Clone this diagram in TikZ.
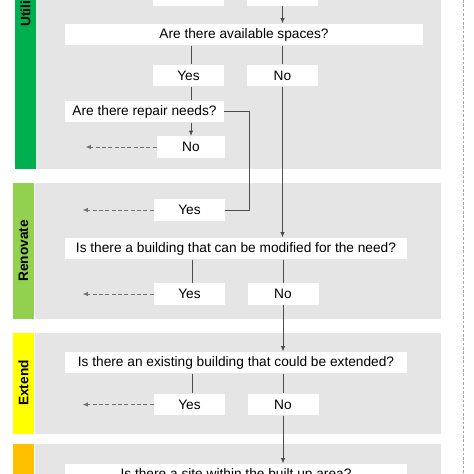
\documentclass[tikz,border=0pt]{standalone}
\usepackage{fontspec}
\setmainfont{Liberation Sans}
\usetikzlibrary{arrows.meta,calc}
\definecolor{panelgray}{HTML}{E5E5E5}
\definecolor{utilgreen}{HTML}{00B050}
\definecolor{renogreen}{HTML}{92D050}
\definecolor{extyellow}{HTML}{FFFF00}
\definecolor{buildorange}{HTML}{FFC000}
\definecolor{flowline}{HTML}{4D4D4D}

\begin{document}
\begin{tikzpicture}[x=0.2mm,y=-0.2mm,
    box/.style={fill=white,inner sep=0pt,minimum height=4.3mm,
      font=\fontsize{7.8}{9}\selectfont},
    question/.style={box,minimum width=68.4mm},
    answer/.style={box,minimum width=14.2mm},
    stage/.style={rotate=90,font=\fontsize{7.8}{9}\selectfont\bfseries},
    flow/.style={flowline,line width=0.55pt},
    into/.style={flow,-{Latex[length=3pt,width=2.6pt]}},
    away/.style={flowline!80,line width=0.55pt,dash pattern=on 2.2pt off 1.4pt,
      -{Latex[length=3pt,width=2.6pt]}}]
      \useasboundingbox (0,0) rectangle (474,474);

      % Stage panels
      \foreach \top/\bot/\col in {-20/169/utilgreen,183/319/renogreen,
          333/434/extyellow,444/500/buildorange}
        \fill[panelgray] (35,\top) rectangle (441,\bot);
      \fill[utilgreen] (15,-20) rectangle (36,169);
      \fill[renogreen] (13,183) rectangle (34,319);
      \fill[extyellow] (13,333) rectangle (34,434);
      \fill[buildorange] (13,444) rectangle (34,500);

      % Stage labels
      \node[stage] (utilise) at (25.5,6) {Utilise};
      \node[stage] (renovate) at (23.5,251) {Renovate};
      \node[stage] (extend) at (23.5,383) {Extend};

      % Frame
      \coordinate (frametop) at (463,0);
      \coordinate (framebot) at (463,474);
      \draw[gray!70,line width=0.5pt,dash pattern=on 1.5pt off 1pt] (frametop) -- (framebot);

      % Utilise
      \node[answer] (topleft) at (188.5,-5) {};
      \node[answer] (topright) at (282.5,-5) {};
      \node[question,minimum width=71.6mm] (spaces) at (244,34.5) {Are there available spaces?};
      \node[answer] (spacesyes) at (188.5,75.5) {Yes};
      \node[answer] (spacesno) at (282.5,75.5) {No};
      \node[box,minimum width=31.8mm] (repair) at (144.5,111.5) {Are there repair needs?};
      \node[answer,minimum width=13.6mm] (repairno) at (191,147) {No};

      % Renovate
      \node[answer] (repairyes) at (189.5,210) {Yes};
      \node[question] (modify) at (236,248.5) {Is there a building that can be modified for the need?};
      \node[answer] (modifyyes) at (189.5,294) {Yes};
      \node[answer] (modifyno) at (283,294) {No};

      % Extend
      \node[question] (existing) at (236,362.5) {Is there an existing building that could be extended?};
      \node[answer] (existingyes) at (189.5,404.5) {Yes};
      \node[answer] (existingno) at (283,404.5) {No};

      % Build
      \node[question] (site) at (236,474.5) {Is there a site within the built up area?};

      % Connections
      \draw[into] (topright.south) -- (topright.south |- spaces.north);
      \draw[flow] ($(spaces.south -| spacesyes)+(2.5,0)$) -- ($(spacesyes.north)+(2.5,0)$);
      \draw[flow] (spaces.south -| spacesno) -- (spacesno.north);
      \draw[flow] ($(spacesyes.south)+(2.5,0)$) -- ($(repair.north -| spacesyes)+(2.5,0)$);
      \draw[into] (repair.south -| repairno) -- (repairno.north);
      \draw[flow] (repair.east) -| ($(repairyes.east)+(24,0)$) -- (repairyes.east);
      \draw[into] (spacesno.south) -- (spacesno.south |- modify.north);
      \draw[flow] ($(modify.south -| modifyyes)+(2.5,0)$) -- ($(modifyyes.north)+(2.5,0)$);
      \draw[flow] (modify.south -| modifyno) -- (modifyno.north);
      \draw[into] (modifyno.south) -- (modifyno.south |- existing.north);
      \draw[flow] ($(existing.south -| existingyes)+(2.5,0)$) -- ($(existingyes.north)+(2.5,0)$);
      \draw[flow] (existing.south -| existingno) -- (existingno.north);
      \draw[into] (existingno.south) -- (existingno.south |- site.north);

      % Exits to the left
      \foreach \n in {repairno,repairyes,modifyyes,existingyes}
        \draw[away] (\n.west) -- ++(-71,0);
\end{tikzpicture}
\end{document}
